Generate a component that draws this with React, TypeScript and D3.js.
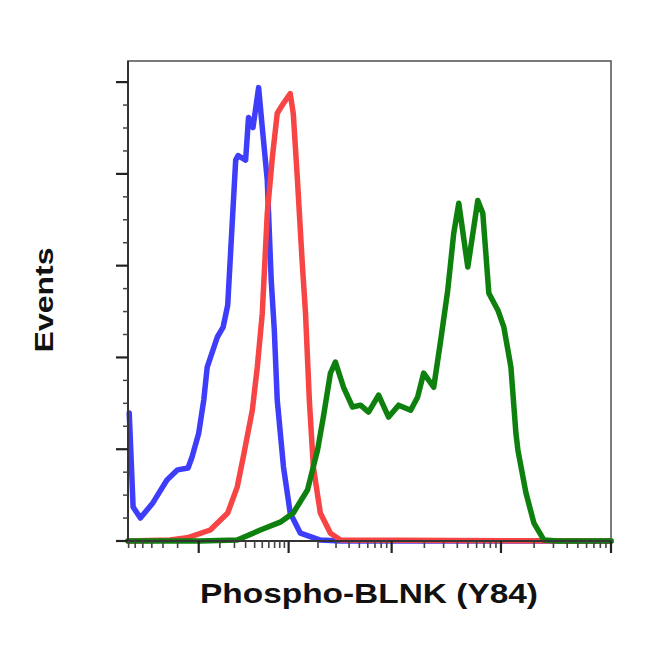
import { useEffect, useRef } from "react";
import * as d3 from "d3";

// histogram values (fluorescence intensity, % of max events)
const blueX = [-59, -53, -43, -29, -17, -10, -4.5, -2.7, 0, 2, 3.5, 8.5, 12, 15, 21, 23, 30, 33, 38, 45, 50, 57.5, 64, 69.5, 75, 88, 104, 133, 211, 331, 1210, 100000];
const blueY = [27.9, 7.4, 5.0, 8.3, 13.3, 15.5, 15.9, 18.3, 23.5, 30.7, 37.9, 44.4, 46.6, 51.4, 83.0, 84.0, 83.0, 92.3, 90.1, 98.8, 90.1, 78.6, 56.8, 45.9, 30.7, 16.1, 6.1, 1.7, 0.2, 0, 0, 0];

const redX = [-61, -14.8, -4.9, 4.9, 15, 22.3, 27.7, 37.2, 43.3, 50, 57.5, 66, 75, 88, 104, 112, 124, 139, 150, 164, 180, 211, 265, 331, 100000];
const redY = [0, 0.2, 0.7, 2.4, 6.1, 11.8, 18.3, 28.5, 37.9, 49.6, 71.4, 83.6, 93.2, 95.4, 97.5, 93.2, 78.6, 60.5, 49.6, 30.7, 16.1, 6.1, 1.7, 0.2, 0];

const greenX = [-61, 0.5, 22.3, 47.3, 81, 112, 157, 198, 226, 265, 296, 354, 431, 513, 610, 757, 937, 1160, 1497, 1736, 1971, 2435, 2824, 3271, 3713, 4126, 4986, 6151, 6833, 7754, 9371, 10620, 12310, 13670, 14260, 16860, 19940, 24600, 33000, 100000];
const greenY = [0, 0, 0.2, 2.4, 4.1, 6.1, 11.1, 19.8, 27.0, 36.6, 39.0, 33.5, 29.2, 29.6, 28.1, 31.8, 27.0, 29.6, 28.5, 31.4, 36.6, 33.5, 43.8, 54.6, 67.1, 73.6, 59.7, 74.2, 71.4, 54.0, 50.3, 46.6, 37.9, 23.5, 19.8, 10.5, 3.9, 0.2, 0, 0];

// axis ticks
const xMajorTicks = [0, 100, 1000, 10000, 100000];
const xMinorTicks = [
  -60, -50, -40, -30, -20, -10,
  10, 20, 30, 40, 50, 60, 70, 80, 90,
  200, 300, 400, 500, 600, 700, 800, 900,
  2000, 3000, 4000, 5000, 6000, 7000, 8000, 9000,
  20000, 30000, 40000, 50000, 60000, 70000, 80000, 90000,
];
const yMajorTicks = [0, 20, 40, 60, 80, 100];
const yMinorTicks = [5, 10, 15, 25, 30, 35, 45, 50, 55, 65, 70, 75, 85, 90, 95];

const series = [
  { name: "blue", xs: blueX, ys: blueY, color: "#3d3dfa" },
  { name: "red", xs: redX, ys: redY, color: "#f74444" },
  { name: "green", xs: greenX, ys: greenY, color: "#0d800d" },
];

export default function App() {
  const svgRef = useRef<SVGSVGElement>(null);

  useEffect(() => {
    if (!svgRef.current) return;
    const width = 650;
    const height = 650;
    const plot = { left: 128, right: 611, top: 61, bottom: 541 };

    const svg = d3.select(svgRef.current);
    svg.selectAll("*").remove();
    svg.attr("width", width).attr("height", height);

    svg.append("rect").attr("width", width).attr("height", height).attr("fill", "white");

    // biexponential-like display approximated with symlog
    const x = d3
      .scaleSymlog()
      .constant(18)
      .domain([-61, 100000])
      .range([plot.left, plot.right]);

    const y = d3.scaleLinear().domain([0, 104.6]).range([plot.bottom, plot.top]);

    // frame
    svg
      .append("rect")
      .attr("x", plot.left)
      .attr("y", plot.top)
      .attr("width", plot.right - plot.left)
      .attr("height", plot.bottom - plot.top)
      .attr("fill", "none")
      .attr("stroke", "#5a5a5a")
      .attr("stroke-width", 1.6);

    const line = d3
      .line<[number, number]>()
      .x((d) => x(d[0]))
      .y((d) => y(d[1]));

    const g = svg.append("g");
    series.forEach((s) => {
      const pts: [number, number][] = s.xs.map((v, i) => [v, s.ys[i]]);
      g.append("path")
        .datum(pts)
        .attr("fill", "none")
        .attr("stroke", s.color)
        .attr("stroke-width", 5.5)
        .attr("stroke-linejoin", "round")
        .attr("stroke-linecap", "round")
        .attr("d", line as any);
    });

    // axes lines
    svg
      .append("line")
      .attr("x1", plot.left)
      .attr("x2", plot.left)
      .attr("y1", plot.top)
      .attr("y2", plot.bottom)
      .attr("stroke", "#333")
      .attr("stroke-width", 2);
    svg
      .append("line")
      .attr("x1", plot.left)
      .attr("x2", plot.right)
      .attr("y1", plot.bottom)
      .attr("y2", plot.bottom)
      .attr("stroke", "#333")
      .attr("stroke-width", 2);

    // y ticks
    const yAxis = svg.append("g");
    yAxis
      .selectAll("line.major")
      .data(yMajorTicks)
      .join("line")
      .attr("class", "major")
      .attr("x1", plot.left - 12)
      .attr("x2", plot.left)
      .attr("y1", (d) => y(d))
      .attr("y2", (d) => y(d))
      .attr("stroke", "#222")
      .attr("stroke-width", 2.2);
    yAxis
      .selectAll("line.minor")
      .data(yMinorTicks)
      .join("line")
      .attr("class", "minor")
      .attr("x1", plot.left - 5)
      .attr("x2", plot.left)
      .attr("y1", (d) => y(d))
      .attr("y2", (d) => y(d))
      .attr("stroke", "#444")
      .attr("stroke-width", 1.5);

    // x ticks
    const xAxis = svg.append("g");
    xAxis
      .selectAll("line.major")
      .data(xMajorTicks)
      .join("line")
      .attr("class", "major")
      .attr("x1", (d) => x(d))
      .attr("x2", (d) => x(d))
      .attr("y1", plot.bottom)
      .attr("y2", plot.bottom + 12)
      .attr("stroke", "#222")
      .attr("stroke-width", 2.2);
    xAxis
      .selectAll("line.minor")
      .data(xMinorTicks)
      .join("line")
      .attr("class", "minor")
      .attr("x1", (d) => x(d))
      .attr("x2", (d) => x(d))
      .attr("y1", plot.bottom)
      .attr("y2", plot.bottom + 7)
      .attr("stroke", "#444")
      .attr("stroke-width", 1.6);

    // axis titles
    svg
      .append("text")
      .attr("x", 369)
      .attr("y", 603)
      .attr("text-anchor", "middle")
      .attr("font-family", "Liberation Sans, Arial, sans-serif")
      .attr("font-weight", "bold")
      .attr("font-size", 28)
      .attr("textLength", 338)
      .attr("lengthAdjust", "spacingAndGlyphs")
      .attr("fill", "#111")
      .text("Phospho-BLNK (Y84)");

    svg
      .append("text")
      .attr("transform", "translate(53,300) rotate(-90)")
      .attr("text-anchor", "middle")
      .attr("font-family", "Liberation Sans, Arial, sans-serif")
      .attr("font-weight", "bold")
      .attr("font-size", 25)
      .attr("textLength", 105)
      .attr("lengthAdjust", "spacingAndGlyphs")
      .attr("fill", "#111")
      .text("Events");
  }, []);

  return <svg ref={svgRef} style={{ position: "absolute", left: 0, top: 0 }}></svg>;
}
